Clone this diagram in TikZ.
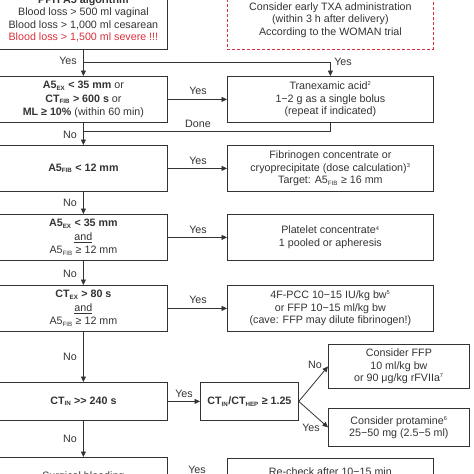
\documentclass[tikz,border=0pt]{standalone}
\usepackage{fontspec}
\setmainfont{Liberation Sans}
\usetikzlibrary{arrows.meta}
\definecolor{ink}{HTML}{333333}
\definecolor{alarm}{HTML}{D8303C}
\newcommand\sbx[1]{\textsubscript{\fontsize{6.2}{6.2}\selectfont #1}}
\newcommand\spx[1]{\textsuperscript{\fontsize{5.7}{5.7}\selectfont #1}}
\begin{document}
\begin{tikzpicture}[x=1pt,y=-1pt,
  box/.style={draw=ink, line width=0.8pt, text=ink, align=center, inner sep=0pt,
    anchor=north west, font=\fontsize{10.7}{12.5}\selectfont},
  lbox/.style={box, minimum width=168, minimum height=46, font=\fontsize{10.7}{13.5}\selectfont},
  rbox/.style={box, minimum width=206, minimum height=46},
  arr/.style={draw=ink, line width=0.8pt, -{Triangle[length=5.5pt,width=5pt]}},
  lnk/.style={draw=ink, line width=0.8pt},
  lab/.style={text=ink, font=\fontsize{10.7}{11}\selectfont, inner sep=0pt}]
\useasboundingbox (0,0) rectangle (474,474);
\clip (0,0) rectangle (474,474);
% boxes
\node[lbox, minimum height=61, font=\fontsize{10.7}{12.5}\selectfont] (top) at (-1,-12)
  {\textbf{PPH A5 algorithm}\\Blood loss > 500 ml vaginal\\Blood loss > 1,000 ml cesarean\\\textcolor{alarm}{Blood loss > 1,500 ml severe !!!}};
\node[rbox, minimum height=59, draw=alarm, dash pattern=on 3pt off 2pt] (early) at (227,-10)
  {Consider early TXA administration\\(within 3 h after delivery)\\According to the WOMAN trial};
\node[lbox] (a1) at (-1,76)
  {\textbf{A5\sbx{EX} < 35 mm} or\\\textbf{CT\sbx{FIB} > 600 s} or\\\textbf{ML ≥ 10\%} (within 60 min)};
\node[rbox] (txa) at (227,76)
  {Tranexamic acid\spx{2}\\1−2 g as a single bolus\\(repeat if indicated)};
\node[lbox] (f1) at (-1,145) {\textbf{A5\sbx{FIB} < 12 mm}};
\node[rbox] (fib) at (227,145)
  {Fibrinogen concentrate or\\cryoprecipitate (dose calculation)\spx{3}\\Target: A5\sbx{FIB} ≥ 16 mm};
\node[lbox] (a2) at (-1,214)
  {\textbf{A5\sbx{EX} < 35 mm}\\\underline{and}\\A5\sbx{FIB} ≥ 12 mm};
\node[rbox] (plt) at (227,214) {Platelet concentrate\spx{4}\\1 pooled or apheresis};
\node[lbox] (c1) at (-1,285)
  {\textbf{CT\sbx{EX} > 80 s}\\\underline{and}\\A5\sbx{FIB} ≥ 12 mm};
\node[rbox] (pcc) at (227,285)
  {4F-PCC 10−15 IU/kg bw\spx{5}\\or FFP 10−15 ml/kg bw\\(cave: FFP may dilute fibrinogen!)};
\node[lbox, minimum height=38] (ci) at (-1,382) {\textbf{CT\sbx{IN} >\kern0pt> 240 s}};
\node[box, minimum width=98, minimum height=38] (ratio) at (200,382)
  {\textbf{CT\sbx{IN}/CT\sbx{HEP} ≥ 1.25}};
\node[box, minimum width=141, minimum height=44] (ffp) at (328,344)
  {Consider FFP\\10 ml/kg bw\\or 90 μg/kg rFVIIa\spx{7}};
\node[box, minimum width=141, minimum height=38] (prot) at (328,408)
  {Consider protamine\spx{6}\\25−50 mg (2.5−5 ml)};
\node[lbox, minimum height=38] (surg) at (-1,457) {Surgical bleeding};
\node[rbox, minimum height=26] (rchk) at (227,458) {Re-check after 10−15 min};
% connectors
\coordinate (j1) at (83,62);
\coordinate (d1) at (83,131);
\draw[arr] (top.south) -- (a1.north);
\draw[arr] (j1) -| (txa.north);
\draw[arr] (a1.east) -- (txa.west);
\draw[lnk] (txa.south) |- (d1);
\draw[arr] (a1.south) -- (f1.north);
\draw[arr] (f1.east) -- (fib.west);
\draw[arr] (f1.south) -- (a2.north);
\draw[arr] (a2.east) -- (plt.west);
\draw[arr] (a2.south) -- (c1.north);
\draw[arr] (c1.east) -- (pcc.west);
\draw[arr] (c1.south) -- (ci.north);
\draw[arr] (ci.east) -- (ratio.west);
\draw[arr] (ratio.east) -- (ffp.west);
\draw[arr] (ratio.east) -- (prot.west);
\draw[arr] (ci.south) -- (surg.north);
\draw[arr] ([yshift=-10pt]surg.east) -- ([yshift=-15pt]rchk.west);
% labels
\node[lab] (l1) at (68,61) {Yes};
\node[lab] (l2) at (343,62) {Yes};
\node[lab] (l3) at (198,91) {Yes};
\node[lab] (l4) at (198,124) {Done};
\node[lab] (l5) at (70,135) {No};
\node[lab] (l6) at (198,161) {Yes};
\node[lab] (l7) at (70,203) {No};
\node[lab] (l8) at (198,230) {Yes};
\node[lab] (l9) at (70,274) {No};
\node[lab] (l10) at (198,300) {Yes};
\node[lab] (l11) at (70,357) {No};
\node[lab] (l12) at (184,394) {Yes};
\node[lab] (l13) at (315,365) {No};
\node[lab] (l14) at (311,428) {Yes};
\node[lab] (l15) at (70,439) {No};
\node[lab] (l16) at (197,470) {Yes};
\end{tikzpicture}
\end{document}
